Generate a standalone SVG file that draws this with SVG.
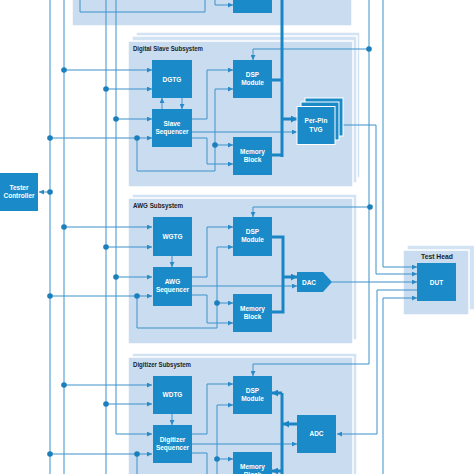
<svg xmlns="http://www.w3.org/2000/svg" width="474" height="474" viewBox="0 0 474 474">
<style>
.panel{fill:#c9dcf0;stroke:#ffffff;stroke-width:1.5}
.panelb{fill:#d2e3f3;stroke:#ffffff;stroke-width:1.5}
.blk{fill:#1a8ac8}
.blks{fill:#1a8ac8;stroke:#ffffff;stroke-width:1}
.lbl{font-family:"Liberation Sans",Arial,sans-serif;font-weight:bold;font-size:6.5px;fill:#ffffff;text-anchor:middle}
.ttl{font-family:"Liberation Sans",Arial,sans-serif;font-weight:bold;font-size:6.5px;fill:#1e1e1e}
.ln{fill:none;stroke:#3d92cb;stroke-width:1}
.th{fill:none;stroke:#1a85c4;stroke-width:3}
.dot{fill:#1a7fbb}
</style>
<defs>
<marker id="a" markerUnits="userSpaceOnUse" markerWidth="5" markerHeight="5" refX="5" refY="2.5" orient="auto">
<path d="M0,0 L5,2.5 L0,5 z" fill="#2a8bc8"/>
</marker>
<marker id="at" markerUnits="userSpaceOnUse" markerWidth="6" markerHeight="7" refX="6" refY="3.5" orient="auto">
<path d="M0,0 L6,3.5 L0,7 z" fill="#1a85c4"/>
</marker>
</defs>

<!-- panels -->
<g id="top-subsystem">
<rect x="72" y="-2" width="280" height="28" class="panel"/>
<rect x="233" y="-2" width="39" height="15" class="blk"/>
</g>
<g id="digital-slave-subsystem">
<rect x="136" y="32" width="224" height="146" class="panelb"/>
<rect x="132" y="36" width="225" height="147" class="panelb"/>
<rect x="128" y="41" width="225" height="146" class="panel"/>
<text x="133" y="51" class="ttl" textLength="70" lengthAdjust="spacingAndGlyphs">Digital Slave Subsystem</text>
</g>
<g id="awg-subsystem">
<rect x="132" y="194" width="225" height="146" class="panelb"/>
<rect x="128" y="198" width="225" height="146" class="panel"/>
<text x="133" y="208" class="ttl" textLength="50" lengthAdjust="spacingAndGlyphs">AWG Subsystem</text>
</g>
<g id="digitizer-subsystem">
<rect x="132" y="353" width="225" height="140" class="panelb"/>
<rect x="128" y="357" width="225" height="140" class="panel"/>
<text x="133" y="367" class="ttl" textLength="58" lengthAdjust="spacingAndGlyphs">Digitizer Subsystem</text>
</g>
<g id="test-head">
<rect x="407" y="245" width="69" height="65" class="panelb"/>
<rect x="403" y="250" width="66" height="65" class="panel"/>
<text x="437" y="259" class="ttl" text-anchor="middle" textLength="32" lengthAdjust="spacingAndGlyphs">Test Head</text>
</g>

<!-- connectors -->
<g id="connectors">
<path class="ln" d="M50,0 V474 M64,0 V474 M106,0 V474"/>
<path class="ln" d="M116,0 V434 H152" marker-end="url(#a)"/>
<path class="ln" d="M50,192 H39" marker-end="url(#a)"/>
<!-- top subsystem -->
<path class="ln" d="M80,0 V12 H205 V0"/>
<path class="ln" d="M215,0 V5 H233" marker-end="url(#a)"/>
<!-- digital slave -->
<path class="ln" d="M64,70 H152" marker-end="url(#a)"/>
<path class="ln" d="M106,89 H152" marker-end="url(#a)"/>
<path class="ln" d="M116,119 H152" marker-end="url(#a)"/>
<path class="ln" d="M50,138 H152" marker-end="url(#a)"/>
<path class="ln" d="M137,138 V171 H215 V89 H233" marker-end="url(#a)"/>
<path class="ln" d="M215,145 H233" marker-end="url(#a)"/>
<path class="ln" d="M192,119 H207 V70 H233" marker-end="url(#a)"/>
<path class="ln" d="M192,132 H297" marker-end="url(#a)"/>
<path class="ln" d="M192,138 H207 V164 H233" marker-end="url(#a)"/>
<path class="ln" d="M162,109 V98" marker-end="url(#a)"/>
<path class="ln" d="M182,98 V109" marker-end="url(#a)"/>
<path class="ln" d="M369,0 V364 H253 V376" marker-end="url(#a)"/>
<path class="ln" d="M369,49 H253 V60" marker-end="url(#a)"/>
<path class="th" d="M272,80 H282 M272,155 H282 M282,0 V157"/>
<path class="th" d="M282,119 H297" marker-end="url(#at)"/>
<path class="ln" d="M335,125 H376 V274 H417" marker-end="url(#a)"/>
<path class="ln" d="M383,0 V267 H417" marker-end="url(#a)"/>
<!-- awg -->
<path class="ln" d="M64,227 H152" marker-end="url(#a)"/>
<path class="ln" d="M106,247 H152" marker-end="url(#a)"/>
<path class="ln" d="M116,277 H152" marker-end="url(#a)"/>
<path class="ln" d="M50,296 H152" marker-end="url(#a)"/>
<path class="ln" d="M137,296 V328 H217 V247 H233" marker-end="url(#a)"/>
<path class="ln" d="M217,303 H233" marker-end="url(#a)"/>
<path class="ln" d="M172,256 V267" marker-end="url(#a)"/>
<path class="ln" d="M192,277 H207 V227 H233" marker-end="url(#a)"/>
<path class="ln" d="M192,286 H297" marker-end="url(#a)"/>
<path class="ln" d="M192,295 H207 V323 H233" marker-end="url(#a)"/>
<path class="ln" d="M370,207 H253 V217" marker-end="url(#a)"/>
<path class="th" d="M272,237 H283 V312 H272"/>
<path class="th" d="M283,277 H297" marker-end="url(#at)"/>
<path class="ln" d="M332,282 H417" marker-end="url(#a)"/>
<!-- digitizer -->
<path class="ln" d="M64,385 H152" marker-end="url(#a)"/>
<path class="ln" d="M106,404 H152" marker-end="url(#a)"/>
<path class="ln" d="M50,454 H152" marker-end="url(#a)"/>
<path class="ln" d="M137,454 V474"/>
<path class="ln" d="M172,414 V425" marker-end="url(#a)"/>
<path class="ln" d="M192,434 H207 V384 H233" marker-end="url(#a)"/>
<path class="ln" d="M192,444 H297" marker-end="url(#a)"/>
<path class="ln" d="M192,453 H207 V474"/>
<path class="ln" d="M217,474 V405 H233" marker-end="url(#a)"/>
<path class="ln" d="M217,459 H233" marker-end="url(#a)"/>
<path class="th" d="M282,393 V474"/>
<path class="th" d="M282,393 H272" marker-end="url(#at)"/>
<path class="th" d="M297,424 H283" marker-end="url(#at)"/>
<path class="th" d="M282,471 H272" marker-end="url(#at)"/>
<path class="ln" d="M417,290 H377 V434 H337" marker-end="url(#a)"/>
<path class="ln" d="M383,474 V298 H417" marker-end="url(#a)"/>
<!-- dots -->
<g class="dot">
<circle cx="50" cy="192" r="2.8"/>
<circle cx="64" cy="70" r="2.8"/><circle cx="106" cy="89" r="2.8"/><circle cx="116" cy="119" r="2.8"/><circle cx="50" cy="138" r="2.8"/><circle cx="137" cy="138" r="2.8"/><circle cx="215" cy="145" r="2.8"/><circle cx="369" cy="49" r="2.8"/>
<circle cx="64" cy="227" r="2.8"/><circle cx="106" cy="247" r="2.8"/><circle cx="116" cy="277" r="2.8"/><circle cx="50" cy="296" r="2.8"/><circle cx="137" cy="296" r="2.8"/><circle cx="217" cy="303" r="2.8"/><circle cx="370" cy="207" r="2.8"/>
<circle cx="64" cy="385" r="2.8"/><circle cx="106" cy="404" r="2.8"/><circle cx="50" cy="454" r="2.8"/><circle cx="137" cy="454" r="2.8"/><circle cx="217" cy="459" r="2.8"/>
</g>
</g>

<!-- nodes -->
<g id="tester-controller"><rect x="-2" y="173" width="40" height="38" class="blk"/><text x="19" y="190" class="lbl">Tester</text><text x="19" y="198" class="lbl">Controller</text></g>
<g id="dgtg"><rect x="152" y="60" width="40" height="38" class="blk"/><text x="172" y="82" class="lbl">DGTG</text></g>
<g id="slave-sequencer"><rect x="152" y="109" width="40" height="38" class="blk"/><text x="172" y="126" class="lbl">Slave</text><text x="172" y="134" class="lbl">Sequencer</text></g>
<g id="ds-dsp"><rect x="233" y="60" width="39" height="38" class="blk"/><text x="252.5" y="77" class="lbl">DSP</text><text x="252.5" y="85" class="lbl">Module</text></g>
<g id="ds-memory"><rect x="233" y="137" width="39" height="38" class="blk"/><text x="252.5" y="154" class="lbl">Memory</text><text x="252.5" y="162" class="lbl">Block</text></g>
<g id="per-pin-tvg"><rect x="305" y="98" width="38" height="38" class="blks"/><rect x="301" y="102" width="38" height="38" class="blks"/><rect x="297" y="106.5" width="38" height="38" class="blks"/><text x="316" y="123" class="lbl">Per-Pin</text><text x="316" y="132" class="lbl">TVG</text></g>
<g id="wgtg"><rect x="153" y="217" width="39" height="39" class="blk"/><text x="172.5" y="239" class="lbl">WGTG</text></g>
<g id="awg-sequencer"><rect x="153" y="267" width="39" height="39" class="blk"/><text x="172.5" y="284" class="lbl">AWG</text><text x="172.5" y="292" class="lbl">Sequencer</text></g>
<g id="awg-dsp"><rect x="233" y="217" width="39" height="39" class="blk"/><text x="252.5" y="234" class="lbl">DSP</text><text x="252.5" y="242" class="lbl">Module</text></g>
<g id="awg-memory"><rect x="233" y="294" width="39" height="38" class="blk"/><text x="252.5" y="311" class="lbl">Memory</text><text x="252.5" y="319" class="lbl">Block</text></g>
<g id="dac"><path d="M297,272 H323 L332,282 L323,292 H297 Z" class="blk"/><text x="309" y="284.5" class="lbl">DAC</text></g>
<g id="wdtg"><rect x="153" y="376" width="39" height="38" class="blk"/><text x="172.5" y="397" class="lbl">WDTG</text></g>
<g id="digitizer-sequencer"><rect x="153" y="425" width="39" height="38" class="blk"/><text x="172.5" y="442" class="lbl">Digitizer</text><text x="172.5" y="450" class="lbl">Sequencer</text></g>
<g id="dg-dsp"><rect x="233" y="376" width="39" height="38" class="blk"/><text x="252.5" y="393" class="lbl">DSP</text><text x="252.5" y="401" class="lbl">Module</text></g>
<g id="dg-memory"><rect x="233" y="452" width="39" height="38" class="blk"/><text x="252.5" y="469" class="lbl">Memory</text><text x="252.5" y="477" class="lbl">Block</text></g>
<g id="adc"><rect x="297" y="415" width="39" height="38" class="blk"/><text x="316.5" y="436" class="lbl">ADC</text></g>
<g id="dut"><rect x="417" y="263" width="39" height="38" class="blk"/><text x="436.5" y="284.5" class="lbl">DUT</text></g>
</svg>
